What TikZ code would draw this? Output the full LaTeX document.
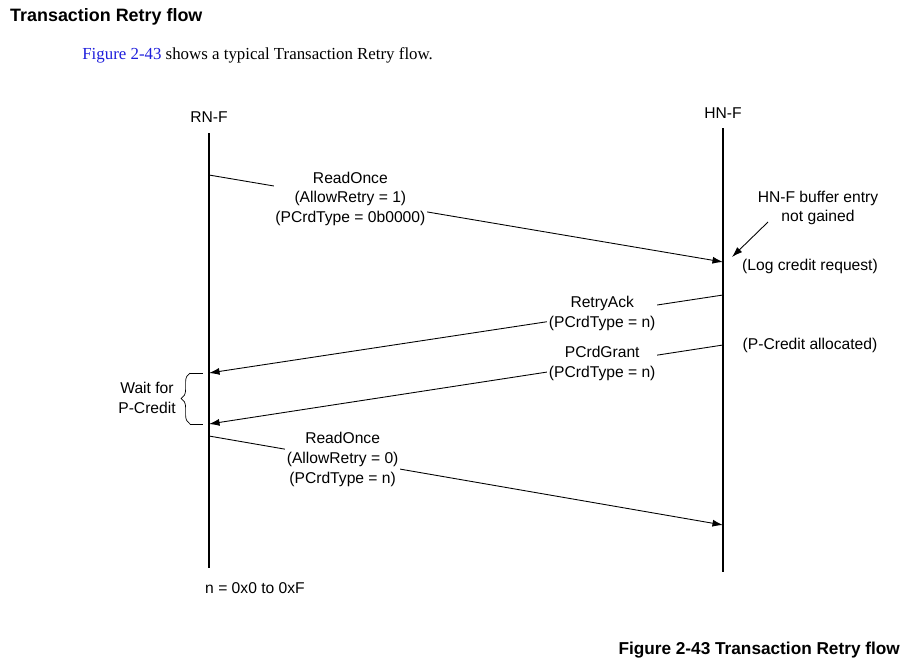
\documentclass[tikz,border=0pt]{standalone}
\usepackage{fontspec}
\setmainfont{Liberation Sans}
\newfontfamily\serifface{Liberation Serif}
\usetikzlibrary{arrows.meta,decorations.pathreplacing}
\definecolor{linkblue}{RGB}{30,30,220}
\begin{document}
\begin{tikzpicture}[
		x=0.02cm, y=-0.02cm,
		lbl/.style={font=\fontsize{8.9}{11.3}\selectfont, align=center},
		msg/.style={-{Latex[length=6pt,width=4pt]}, line width=0.5pt},
		onmsg/.style={lbl, fill=white, inner sep=1pt},
		life/.style={line width=1.4pt}
		]
		\useasboundingbox (0,0) rectangle (915,664);
		
		% Headings
		\node[anchor=west, font=\fontsize{10.2}{12}\selectfont\bfseries] (title) at (4,17) {Transaction Retry flow};
		\node[anchor=west, font=\serifface\fontsize{9.6}{11}\selectfont, inner sep=0pt] (intro) at (82,55) {\textcolor{linkblue}{Figure 2-43} shows a typical Transaction Retry flow.};
		\node[anchor=east, font=\fontsize{9.8}{12}\selectfont\bfseries] (caption) at (906,650) {Figure 2-43 Transaction Retry flow};
		
		% Lifelines
		\node[lbl] (rnf) at (209,117) {RN-F};
		\node[lbl] (hnf) at (723,113) {HN-F};
		\coordinate (rnftop) at (209,133);
		\coordinate (rnfbot) at (209,568);
		\coordinate (hnftop) at (723,128);
		\coordinate (hnfbot) at (723,572);
		\draw[life] (rnftop) -- (rnfbot);
		\draw[life] (hnftop) -- (hnfbot);
		
		% Message end points
		\coordinate (m1s) at (209,175); \coordinate (m1e) at (723,262);
		\coordinate (m2s) at (723,295); \coordinate (m2e) at (209,373);
		\coordinate (m3s) at (723,345); \coordinate (m3e) at (209,424);
		\coordinate (m4s) at (209,436); \coordinate (m4e) at (723,525);
		
		% Messages
		\draw[msg] (m1s) -- (m1e) node[onmsg, pos=0.275] {ReadOnce\\(AllowRetry = 1)\\(PCrdType = 0b0000)};
		\draw[msg] (m2s) -- (m2e) node[onmsg, pos=0.235] {RetryAck\\(PCrdType = n)};
		\draw[msg] (m3s) -- (m3e) node[onmsg, pos=0.235] {PCrdGrant\\(PCrdType = n)};
		\draw[msg] (m4s) -- (m4e) node[onmsg, pos=0.26] {ReadOnce\\(AllowRetry = 0)\\(PCrdType = n)};
		
		% Annotations at HN-F
		\node[lbl] (notgained) at (818,208) {HN-F buffer entry\\not gained};
		\coordinate (ptr) at (768,222);
		\coordinate (ptrend) at (732,257);
		\draw[msg] (ptr) -- (ptrend);
		\node[lbl] (logreq) at (810,266) {(Log credit request)};
		\node[lbl] (alloc) at (810,345) {(P-Credit allocated)};
		
		% Wait at RN-F
		\coordinate (bracebot) at (190,424);
		\coordinate (bracetop) at (190,373);
		\draw (bracebot) -- ++(13,0);
		\draw (bracetop) -- ++(13,0);
		\draw[decorate, decoration={brace, amplitude=5pt}] (bracebot) -- (bracetop);
		\node[lbl] (wait) at (147,398) {Wait for\\P-Credit};
		
		\node[lbl] (range) at (255,588) {n = 0x0 to 0xF};
	\end{tikzpicture}
\end{document}
